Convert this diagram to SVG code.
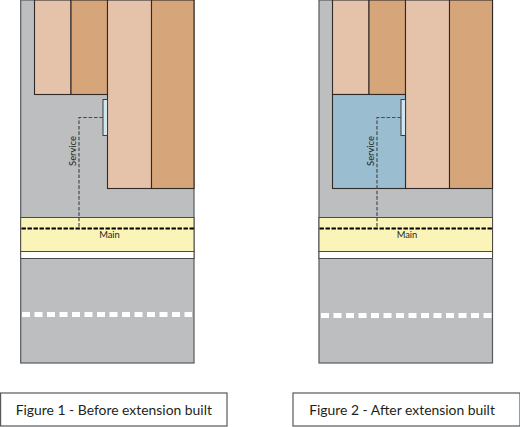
<svg xmlns="http://www.w3.org/2000/svg" width="520" height="427" viewBox="0 0 520 427">
<style>
text{font-family:"Lato","Open Sans","Liberation Sans",sans-serif;fill:#231f20}
.lot{fill:#bcbec0;stroke:#58595b;stroke-width:1.2}
.light{fill:#e4c3aa;stroke:#2f2a28;stroke-width:1.1}
.dark{fill:#d6a57a;stroke:#2f2a28;stroke-width:1.1}
.ext{fill:#9abdd0;stroke:#2f2a28;stroke-width:1.1}
.meter{fill:#cfe6ef;stroke:#3c3c3c;stroke-width:1}
.verge{fill:#fbf4b8;stroke:#4a4a48;stroke-width:1}
.strip{fill:#fff;stroke:#4a4a48;stroke-width:1}
.cap{fill:#fff;stroke:#58595b;stroke-width:1.2}
.svc{fill:none;stroke:#4a4a4a;stroke-width:1.2;stroke-dasharray:3.6 1.8}
.main{fill:none;stroke:#000;stroke-width:2.2;stroke-dasharray:4.4 1.6}
.centre{fill:none;stroke:#fff;stroke-width:5;stroke-dasharray:8 4.5}
.sm{font-size:9.4px}
.capt{font-size:13.9px}
</style>
<g id="figure-1">
<rect class="lot" x="20.7" y="0" width="173.3" height="363"/>
<g id="f1-house-a"><rect class="light" x="34.5" y="0" width="36.5" height="94.5"/></g>
<g id="f1-house-b"><rect class="dark" x="71" y="0" width="36.5" height="94.5"/></g>
<g id="f1-house-c"><rect class="light" x="107.5" y="0" width="44" height="188.5"/></g>
<g id="f1-house-d"><rect class="dark" x="151.5" y="0" width="42.5" height="188.5"/></g>
<g id="f1-meter"><rect class="meter" x="103" y="99.5" width="4.5" height="36"/></g>
<g id="f1-verge"><rect class="verge" x="20.7" y="217.5" width="173.3" height="34"/></g>
<g id="f1-strip"><rect class="strip" x="20.7" y="251.5" width="173.3" height="7"/></g>
<g id="f1-connectors">
<path class="svc" d="M103 117.500H79V228"/>
<path class="main" d="M21.500 228.500H194"/>
<path class="centre" d="M22 314.500H192"/>
</g>
<text class="sm" transform="translate(76 151) rotate(-90)" text-anchor="middle">Service</text>
<text class="sm" x="109.500" y="238" text-anchor="middle">Main</text>
</g>
<g id="figure-2">
<rect class="lot" x="319" y="0" width="173.500" height="363"/>
<g id="f2-house-a"><rect class="light" x="332.500" y="0" width="36.500" height="94.500"/></g>
<g id="f2-house-b"><rect class="dark" x="369" y="0" width="36.500" height="94.500"/></g>
<g id="f2-house-c"><rect class="light" x="405.500" y="0" width="44" height="188.500"/></g>
<g id="f2-house-d"><rect class="dark" x="449.500" y="0" width="43" height="188.500"/></g>
<g id="f2-extension"><rect class="ext" x="332.500" y="94.500" width="73" height="94"/></g>
<g id="f2-meter"><rect class="meter" x="401" y="99.500" width="4.500" height="36"/></g>
<g id="f2-verge"><rect class="verge" x="319" y="217.500" width="173.500" height="34"/></g>
<g id="f2-strip"><rect class="strip" x="319" y="251.500" width="173.500" height="7"/></g>
<g id="f2-connectors">
<path class="svc" d="M401 117.500H377V228"/>
<path class="main" d="M319.500 228.500H492.500"/>
<path class="centre" d="M321 315.500H492"/>
</g>
<text class="sm" transform="translate(374 151) rotate(-90)" text-anchor="middle">Service</text>
<text class="sm" x="407" y="238" text-anchor="middle">Main</text>
</g>
<g id="caption-1"><rect class="cap" x="0.600" y="393" width="226.400" height="33"/><text class="capt" x="113.800" y="414.500" text-anchor="middle">Figure 1 - Before extension built</text></g>
<g id="caption-2"><rect class="cap" x="293" y="393" width="227" height="33"/><text class="capt" x="402" y="414.500" text-anchor="middle">Figure 2 - After extension built</text></g>
</svg>
